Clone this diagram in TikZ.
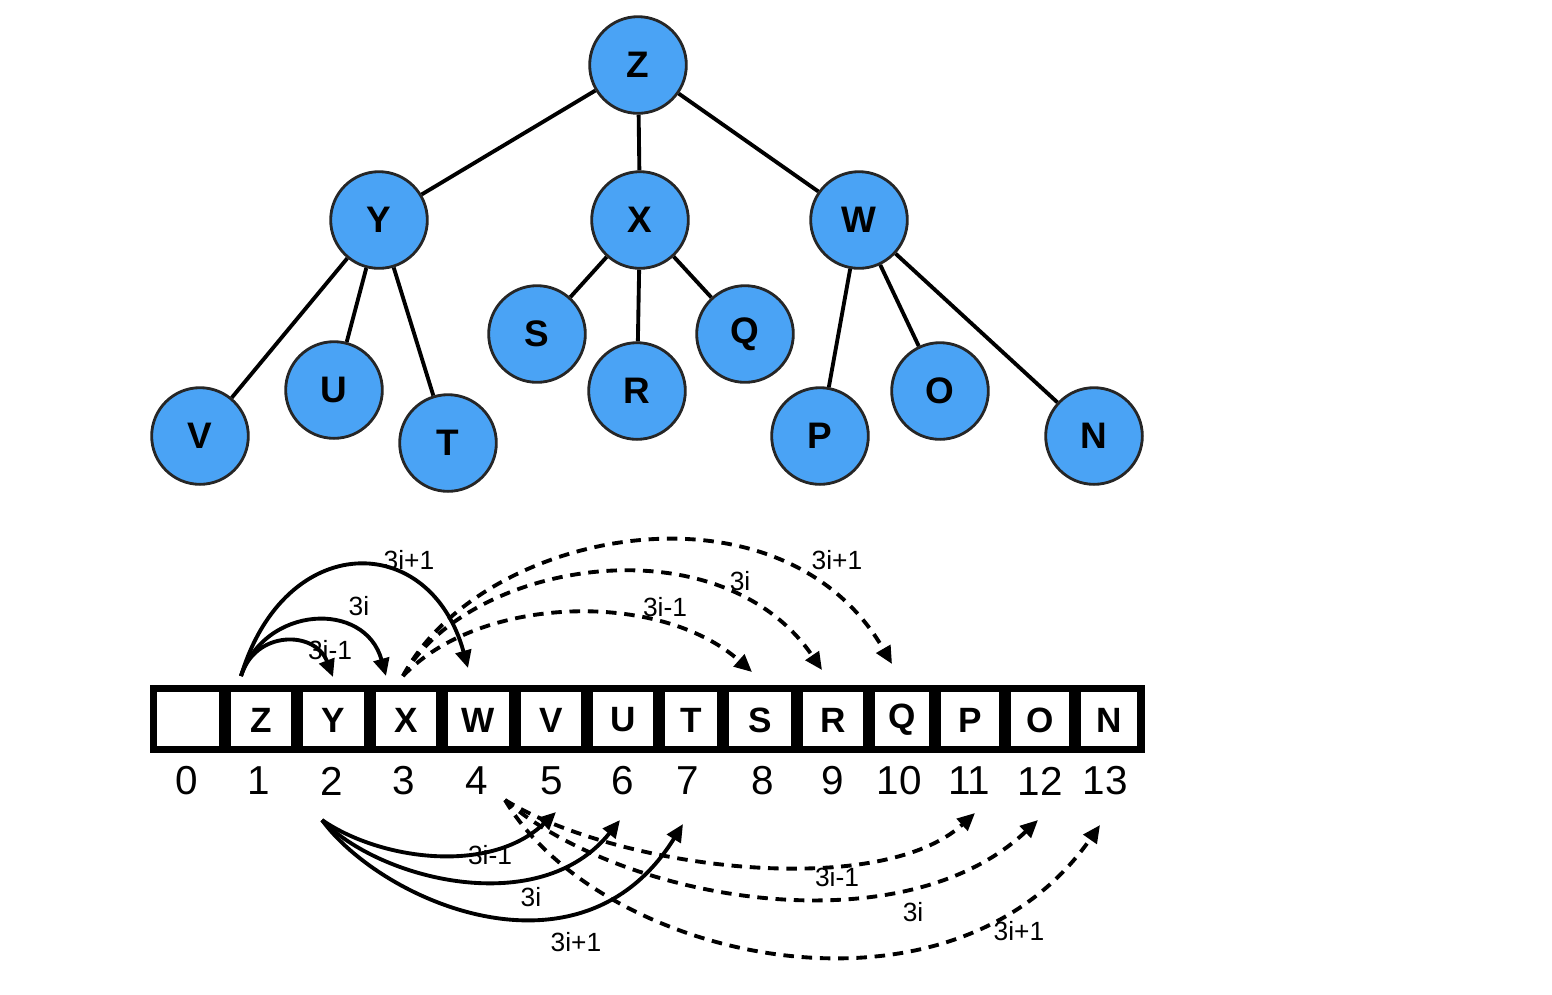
\documentclass[tikz,border=0pt]{standalone}
\usepackage{fontspec}
\setmainfont{Liberation Sans}
\usetikzlibrary{arrows.meta}
\definecolor{nodeblue}{RGB}{74,163,245}
\begin{document}
\begin{tikzpicture}[x=0.1mm,y=-0.1mm,
  tn/.style={circle,draw=black!85,line width=0.8pt,fill=nodeblue,minimum size=27.5pt,inner sep=0pt,font=\fontsize{10.5}{12}\selectfont\bfseries},
  edge/.style={line width=1.1pt},
  cellt/.style={font=\fontsize{10}{12}\selectfont\bfseries},
  idx/.style={font=\fontsize{11.5}{13}\selectfont},
  lab/.style={font=\fontsize{7.5}{9}\selectfont},
  arc/.style={line width=1.1pt,-{Triangle[length=5pt,width=4.5pt]}},
  darc/.style={arc,dash pattern=on 3pt off 2.2pt}]
\useasboundingbox (0,0) rectangle (1552,994);
% tree
\node[tn] (Z) at (638,65) {Z};
\node[tn] (Y) at (379,220) {Y};
\node[tn] (X) at (640,220) {X};
\node[tn] (W) at (859,220) {W};
\node[tn] (S) at (537,334) {S};
\node[tn] (R) at (637,391) {R};
\node[tn] (Q) at (745,334) {Q};
\node[tn] (V) at (200,436) {V};
\node[tn] (U) at (334,390) {U};
\node[tn] (T) at (448,443) {T};
\node[tn] (P) at (820,436) {P};
\node[tn] (O) at (940,391) {O};
\node[tn] (N) at (1094,436) {N};
\foreach \a/\b in {Z/Y,Z/X,Z/W,Y/V,Y/U,Y/T,X/S,X/R,X/Q,W/P,W/O,W/N}
  \draw[edge] (\a) -- (\b);
% array
\fill[black] (150,685) rectangle (1145,753);
\foreach \i/\l/\r/\t in {0/154/222/{},1/228/294/Z,2/300/367/Y,3/373/439/X,4/445/512/W,5/518/584/V,6/590/656/U,7/662/720/T,8/726/794/S,9/800/866/R,10/872/932/Q,11/938/1002/P,12/1008/1072/O,13/1078/1140/N}{
  \fill[white] (\l+3,692) rectangle (\r-3,746);
  \node[cellt] (c\i) at ({(\l+\r)/2},720) {\t};
}
\foreach \i/\x in {0/187,1/259,2/332,3/404,4/477,5/552,6/623,7/688,8/763,9/833,10/899,11/969,12/1040,13/1105}
  \node[idx] (n\i) at (\x,781) {\i};
% top arrow anchor coordinates
\coordinate (zt) at (241,676);
\coordinate (yt) at (333,677);
\coordinate (xt) at (386,676);
\coordinate (wt) at (468,668);
\coordinate (xs) at (403,676);
\coordinate (st) at (752,672);
\coordinate (rt) at (822,670);
\coordinate (qt) at (892,664);
\draw[arc] (zt) .. controls (255,630) and (315,630) .. (yt);
\draw[arc] (zt) .. controls (265,605) and (365,600) .. (xt);
\draw[arc] (zt) .. controls (285,530) and (430,530) .. (wt);
\draw[darc] (xs) .. controls (480,595) and (660,590) .. (st);
\draw[darc] (xs) .. controls (470,560) and (720,520) .. (rt);
\draw[darc] (xs) .. controls (480,530) and (780,470) .. (qt);
\node[lab] at (330,650) {3i-1};
\node[lab] at (359,606) {3i};
\node[lab] at (409,560) {3i+1};
\node[lab] at (665,607) {3i-1};
\node[lab] at (740,581) {3i};
\node[lab] at (837,560) {3i+1};
% bottom
\coordinate (tb) at (322,820);
\coordinate (b5) at (556,812);
\coordinate (b6) at (620,820);
\coordinate (b7) at (683,824);
\coordinate (fb) at (505,800);
\coordinate (b11) at (975,813);
\coordinate (b12) at (1038,820);
\coordinate (b13) at (1100,825);
\draw[arc] (tb) .. controls (380,860) and (490,875) .. (b5);
\draw[arc] (tb) .. controls (380,880) and (540,920) .. (b6);
\draw[arc] (tb) .. controls (380,900) and (580,990) .. (b7);
\draw[darc] (fb) .. controls (620,870) and (880,900) .. (b11);
\draw[darc] (fb) .. controls (620,900) and (900,950) .. (b12);
\draw[darc] (fb) .. controls (600,960) and (950,1040) .. (b13);
\node[lab] at (490,855) {3i-1};
\node[lab] at (531,897) {3i};
\node[lab] at (576,942) {3i+1};
\node[lab] at (837,877) {3i-1};
\node[lab] at (913,912) {3i};
\node[lab] at (1019,931) {3i+1};
\end{tikzpicture}
\end{document}
